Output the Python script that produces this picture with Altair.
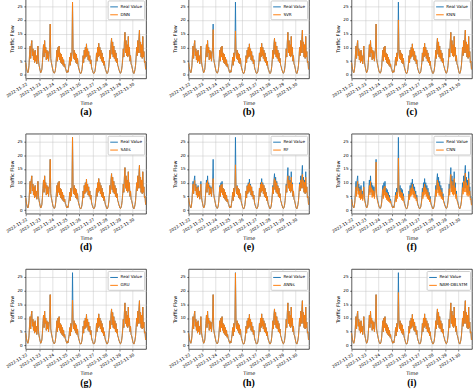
import altair as alt
import pandas as pd

# ---------------- data (hourly, 2022-11-22 00:00 .. 2022-11-30 23:00) ----------------
real_days = [
    [4.5,3.0,2.0,1.2,0.8,1.5,3.5,7.5,10.5,6.0,11.0,12.5,7.0,9.5,5.5,8.5,4.5,9.0,5.0,7.0,4.0,6.5,10.5,5.0],
    [3.5,2.5,1.5,0.8,1.2,2.0,4.5,8.0,11.0,6.5,12.5,8.0,10.0,5.5,9.0,6.0,8.5,5.0,7.5,10.0,18.5,6.0,4.5,3.5],
    [2.5,1.5,1.0,0.6,0.8,1.5,3.0,6.0,9.0,5.0,10.0,6.5,10.5,5.5,8.0,4.5,7.5,4.0,6.5,3.5,5.5,3.0,4.0,2.5],
    [2.0,1.2,0.8,1.5,1.0,2.5,4.0,6.5,3.5,8.0,5.0,8.5,26.5,8.5,6.0,9.0,5.5,8.0,4.5,7.5,4.0,6.0,3.5,2.5],
    [1.8,1.0,0.6,0.5,1.0,2.0,4.0,7.0,4.5,9.0,6.0,10.0,6.5,11.3,7.0,9.5,5.5,8.5,5.0,7.0,4.0,5.5,3.0,2.0],
    [1.5,0.8,0.5,0.7,1.2,2.5,4.5,8.0,5.0,10.0,6.5,11.5,7.0,10.0,6.0,9.0,5.0,8.0,4.5,6.5,3.5,5.0,3.0,2.0],
    [1.5,0.8,0.5,0.8,1.5,3.0,5.5,9.0,6.0,11.0,13.3,7.5,12.0,6.5,10.5,6.0,9.0,5.0,8.0,4.5,6.0,3.5,3.0,2.0],
    [1.5,0.8,0.6,1.0,1.8,3.5,6.0,9.5,6.5,12.0,15.5,8.0,12.5,7.0,11.0,6.5,14.0,7.0,10.0,5.0,7.0,4.0,3.5,2.5],
    [1.5,0.8,0.5,1.0,2.0,3.5,6.5,10.0,7.0,12.5,8.0,13.0,16.3,8.0,12.0,6.5,11.0,6.0,14.0,6.5,8.5,4.5,5.0,2.0],
]

cnn_days = [
    [4.0,2.8,1.8,1.1,0.8,1.4,3.0,6.0,8.5,5.0,9.0,10.5,5.8,8.0,4.5,7.0,3.8,7.5,4.2,5.8,3.5,5.5,8.5,4.2],
    [3.0,2.2,1.4,0.8,1.1,1.8,3.8,6.5,9.0,5.5,10.5,6.5,8.2,4.6,7.5,5.0,7.0,4.2,6.2,8.2,17.5,5.0,3.8,3.0],
    [2.2,1.4,0.9,0.6,0.8,1.4,2.6,5.0,7.5,4.2,8.2,5.4,8.8,4.6,6.6,3.8,6.2,3.4,5.4,3.0,4.6,2.6,3.4,2.2],
    [1.8,1.1,0.8,1.3,0.9,2.2,3.4,5.4,3.0,6.6,4.2,7.0,19.0,7.0,5.0,7.5,4.6,6.6,3.8,6.2,3.4,5.0,3.0,2.2],
    [1.6,0.9,0.6,0.5,0.9,1.8,3.4,5.8,3.8,7.5,5.0,8.2,5.4,9.4,5.8,7.8,4.6,7.0,4.2,5.8,3.4,4.6,2.6,1.8],
    [1.4,0.8,0.5,0.7,1.1,2.2,3.8,6.6,4.2,8.2,5.4,9.5,5.8,8.2,5.0,7.5,4.2,6.6,3.8,5.4,3.0,4.2,2.6,1.8],
    [1.4,0.8,0.5,0.8,1.4,2.6,4.6,7.5,5.0,9.0,11.0,6.2,10.0,5.4,8.6,5.0,7.5,4.2,6.6,3.8,5.0,3.0,2.6,1.8],
    [1.4,0.8,0.6,0.9,1.6,3.0,5.0,7.8,5.4,10.0,13.0,6.6,10.5,5.8,9.0,5.4,11.5,5.8,8.2,4.2,5.8,3.4,3.0,2.2],
    [1.4,0.8,0.5,0.9,1.8,3.0,5.4,8.2,5.8,10.5,6.6,10.8,13.5,6.6,10.0,5.4,9.0,5.0,11.5,5.4,7.0,3.8,4.2,1.8],
]

rf_days = [
    [4.5,3.0,2.0,1.2,0.8,1.5,3.5,7.0,9.5,6.0,10.0,10.8,7.0,9.0,5.5,8.0,4.5,8.5,5.0,7.0,4.0,6.5,9.5,5.0],
    [3.5,2.5,1.5,0.8,1.2,2.0,4.5,7.5,10.0,6.5,10.8,8.0,9.5,5.5,8.5,6.0,8.0,5.0,7.5,9.0,11.5,6.0,4.5,3.5],
    [2.5,1.5,1.0,0.6,0.8,1.5,3.0,6.0,8.5,5.0,9.2,6.5,9.5,5.5,8.0,4.5,7.5,4.0,6.5,3.5,5.5,3.0,4.0,2.5],
    [2.0,1.2,0.8,1.5,1.0,2.5,4.0,6.5,3.5,8.0,5.0,8.5,16.5,8.5,6.0,8.8,5.5,8.0,4.5,7.5,4.0,6.0,3.5,2.5],
    [1.8,1.0,0.6,0.5,1.0,2.0,4.0,7.0,4.5,8.8,6.0,9.5,6.5,10.0,7.0,9.0,5.5,8.5,5.0,7.0,4.0,5.5,3.0,2.0],
    [1.5,0.8,0.5,0.7,1.2,2.5,4.5,8.0,5.0,9.5,6.5,10.2,7.0,9.5,6.0,9.0,5.0,8.0,4.5,6.5,3.5,5.0,3.0,2.0],
    [1.5,0.8,0.5,0.8,1.5,3.0,5.5,8.5,6.0,10.2,11.5,7.5,10.8,6.5,10.0,6.0,8.8,5.0,8.0,4.5,6.0,3.5,3.0,2.0],
    [1.5,0.8,0.6,1.0,1.8,3.5,6.0,9.0,6.5,10.8,12.5,8.0,11.0,7.0,10.2,6.5,12.0,7.0,9.5,5.0,7.0,4.0,3.5,2.5],
    [1.5,0.8,0.5,1.0,2.0,3.5,6.5,9.5,7.0,11.0,8.0,11.5,13.0,8.0,10.8,6.5,10.2,6.0,12.0,6.5,8.5,4.5,5.0,2.0],
]

letters = ["a", "b", "c", "d", "e", "f", "g", "h", "i"]
models = ["DNN", "SVR", "KNN", "SAEs", "RF", "CNN", "GRU", "ANNs", "NAM-DBLSTM"]
# predicted values at the two spike hours (index 44: 11-23 20h, index 84: 11-25 12h)
spike_pred = {
    "DNN": {44: 18.5, 84: 26.5},
    "SVR": {44: 16.5, 84: 16.0},
    "KNN": {44: 18.5, 84: 20.0},
    "SAEs": {44: 18.5, 84: 26.5},
    "GRU": {44: 18.5, 84: 16.5},
    "ANNs": {44: 18.5, 84: 26.4},
    "NAM-DBLSTM": {44: 18.5, 84: 19.3},
}
y_ticks = [0, 5, 10, 15, 20, 25]

real = [v for d in real_days for v in d]
cnn = [v for d in cnn_days for v in d]
rf = [v for d in rf_days for v in d]
times = pd.date_range("2022-11-22 00:00", periods=len(real), freq="h")

tick_vals = [alt.DateTime(year=2022, month=11, date=d) for d in range(22, 31)]
x_dom = [alt.DateTime(year=2022, month=11, date=22), alt.DateTime(year=2022, month=12, date=1)]

BLUE = "#1f77b4"
ORANGE = "#ff7f0e"


def panel(letter, model):
    if model == "CNN":
        pred = list(cnn)
    elif model == "RF":
        pred = list(rf)
    else:
        pred = list(real)
        for k, v in spike_pred[model].items():
            pred[k] = v
    df = pd.DataFrame({"t": times, "real": real, "pred": pred})
    base = alt.Chart(df)
    x = alt.X("t:T", scale=alt.Scale(domain=x_dom),
              axis=alt.Axis(values=tick_vals, format="%Y-%m-%d", labelAngle=-32,
                            labelAlign="right", labelBaseline="top", labelOverlap=False,
                            labelBound=False, title="Time"))
    yscale = alt.Scale(domain=[-1.3, 27.8], nice=False, zero=False)
    yaxis = alt.Axis(values=y_ticks, title="Traffic Flow")
    cscale = alt.Scale(domain=["Real Value", model], range=[BLUE, ORANGE])
    leg = alt.Legend(orient="top-right", offset=2, title=None)
    l1 = base.transform_calculate(series="'Real Value'").mark_line(strokeWidth=0.9).encode(
        x=x, y=alt.Y("real:Q", scale=yscale, axis=yaxis),
        color=alt.Color("series:N", scale=cscale, legend=leg))
    l2 = base.transform_calculate(series=f"'{model}'").mark_line(strokeWidth=0.9).encode(
        x=x, y=alt.Y("pred:Q", scale=yscale, axis=yaxis),
        color=alt.Color("series:N", scale=cscale, legend=leg))
    return alt.layer(l1, l2).properties(
        width=122, height=81,
        title=alt.TitleParams(f"({letter})", orient="bottom", font="Liberation Serif",
                              fontWeight="bold", fontSize=10, offset=2, color="black"))


panels = [panel(l, m) for l, m in zip(letters, models)]
chart = alt.concat(*panels, columns=3, spacing={"row": 15, "column": 20}).resolve_scale(
    color="independent"
).properties(
    padding={"left": 5, "top": -5, "right": 0, "bottom": 0}
).configure_view(
    stroke="black", strokeWidth=0.7
).configure_axis(
    labelFont="DejaVu Sans", titleFont="DejaVu Sans", labelFontSize=4.2, titleFontSize=5,
    titleFontWeight="normal", titlePadding=2, labelPadding=1.5, tickSize=2, tickWidth=0.5,
    tickColor="black", labelColor="black", titleColor="black", domain=False,
    grid=True, gridColor="#c4c4c4", gridWidth=0.5
).configure_legend(
    labelFont="DejaVu Sans", labelFontSize=4.2, symbolType="stroke", symbolSize=60,
    symbolStrokeWidth=1, fillColor="white", strokeColor="#cccccc", padding=2,
    rowPadding=1, labelOffset=2, cornerRadius=1
)

chart.save("out.html", embed_options={"renderer": "svg", "actions": False})
